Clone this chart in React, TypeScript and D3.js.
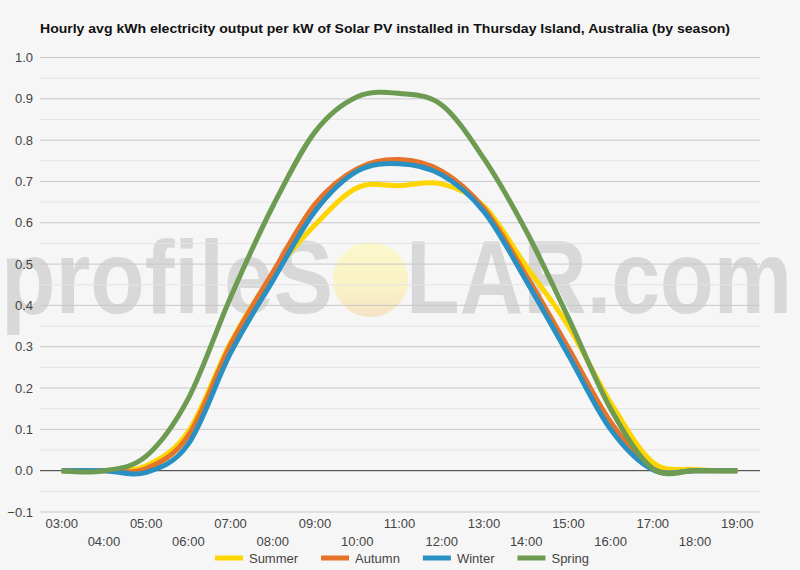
import React, { useEffect, useRef } from 'react';
import * as d3 from 'd3';

const hours = [3, 4, 5, 6, 7, 8, 9, 10, 11, 12, 13, 14, 15, 16, 17, 18, 19];
const summer = [0, 0, 0.012, 0.095, 0.31, 0.475, 0.595, 0.685, 0.69, 0.694, 0.64, 0.495, 0.35, 0.165, 0.02, 0.003, 0];
const autumn = [0, 0, 0.005, 0.085, 0.305, 0.48, 0.645, 0.731, 0.753, 0.725, 0.635, 0.473, 0.297, 0.118, 0.004, 0, 0];
const winter = [0, 0, -0.004, 0.065, 0.285, 0.46, 0.628, 0.725, 0.743, 0.716, 0.627, 0.46, 0.28, 0.1, 0.002, 0, 0];
const spring = [0, 0, 0.035, 0.175, 0.42, 0.64, 0.82, 0.905, 0.913, 0.885, 0.755, 0.58, 0.37, 0.15, 0.005, 0, 0];
const seriesNames = ['Summer', 'Autumn', 'Winter', 'Spring'];
const seriesColors = ['#fdd500', '#e5732a', '#2a90c2', '#6d9b52'];
const yTicks = [-0.1, 0, 0.1, 0.2, 0.3, 0.4, 0.5, 0.6, 0.7, 0.8, 0.9, 1.0];

const W = 800;
const H = 570;

const App: React.FC = () => {
  const svgRef = useRef<SVGSVGElement | null>(null);

  useEffect(() => {
    if (!svgRef.current) return;
    const svg = d3.select(svgRef.current);
    svg.selectAll('*').remove();
    const font = '"Liberation Sans", Arial, sans-serif';

    const x = d3.scaleLinear().domain([3, 19]).range([61.7, 737.3]);
    const y = d3.scaleLinear().domain([-0.1, 1.0]).range([512, 57.5]);
    const left = 40;
    const right = 760;

    svg.append('rect').attr('width', W).attr('height', H).attr('fill', '#f6f6f6');

    // watermark
    const defs = svg.append('defs');
    const grad = defs.append('linearGradient').attr('id', 'sun').attr('x1', 0).attr('y1', 0).attr('x2', 0).attr('y2', 1);
    grad.append('stop').attr('offset', '0%').attr('stop-color', '#fbf8cc');
    grad.append('stop').attr('offset', '60%').attr('stop-color', '#f9f2c4');
    grad.append('stop').attr('offset', '100%').attr('stop-color', '#f6e2c6');
    const wm = svg.append('g').attr('font-family', font).attr('font-size', 103)
      .attr('font-weight', 'bold').attr('fill', '#d8d8d8');
    wm.append('text').attr('x', 1).attr('y', 313)
      .attr('textLength', 332).attr('lengthAdjust', 'spacingAndGlyphs').text('profileS');
    wm.append('text').attr('x', 406).attr('y', 313)
      .attr('textLength', 386).attr('lengthAdjust', 'spacingAndGlyphs').text('LAR.com');
    svg.append('circle').attr('cx', 370.5).attr('cy', 279.5).attr('r', 37.5).attr('fill', 'url(#sun)');

    // gridlines
    const minor = d3.range(-0.05, 1.0, 0.1);
    svg.append('g').selectAll('line').data(minor).enter().append('line')
      .attr('x1', left).attr('x2', right)
      .attr('y1', (d) => y(d)).attr('y2', (d) => y(d))
      .attr('stroke', '#e4e4e4').attr('stroke-width', 1);
    svg.append('g').selectAll('line').data(yTicks).enter().append('line')
      .attr('x1', left).attr('x2', right)
      .attr('y1', (d) => y(d)).attr('y2', (d) => y(d))
      .attr('stroke', (d) => (Math.abs(d) < 1e-9 ? '#333' : '#c8c8c8'))
      .attr('stroke-width', 1);

    // y labels
    svg.append('g').selectAll('text').data(yTicks).enter().append('text')
      .attr('x', 33).attr('y', (d) => y(d)).attr('dy', '0.35em')
      .attr('text-anchor', 'end').attr('font-family', font).attr('font-size', 13).attr('fill', '#444')
      .text((d) => d3.format('.1f')(d));

    // x labels
    svg.append('g').selectAll('text').data(hours).enter().append('text')
      .attr('x', (d) => x(d)).attr('y', (d) => (d % 2 === 1 ? 528 : 546))
      .attr('text-anchor', 'middle').attr('font-family', font).attr('font-size', 13).attr('fill', '#444')
      .text((d) => `${String(d).padStart(2, '0')}:00`);

    // lines
    const all = [summer, autumn, winter, spring];
    const line = d3.line<number>()
      .x((_d, i) => x(hours[i]))
      .y((d) => y(d))
      .curve(d3.curveCardinal.tension(0));
    all.forEach((s, i) => {
      svg.append('path').attr('d', line(s) as string)
        .attr('fill', 'none').attr('stroke', seriesColors[i]).attr('stroke-width', 5)
        .attr('stroke-linejoin', 'round');
    });

    // title
    svg.append('text').attr('x', 40).attr('y', 33)
      .attr('font-family', font).attr('font-size', 13).attr('font-weight', 'bold').attr('fill', '#111')
      .attr('textLength', 690).attr('lengthAdjust', 'spacingAndGlyphs')
      .text('Hourly avg kWh electricity output per kW of Solar PV installed in Thursday Island, Australia (by season)');

    // legend
    const lg = svg.append('g');
    let cx = 0;
    const items: { g: any; w: number }[] = [];
    seriesNames.forEach((name, i) => {
      const g = lg.append('g');
      g.append('rect').attr('x', 0).attr('y', -2.5).attr('width', 28).attr('height', 5).attr('fill', seriesColors[i]);
      const t = g.append('text').attr('x', 34).attr('y', 0).attr('dy', '0.35em')
        .attr('font-family', font).attr('font-size', 13).attr('fill', '#444').text(name);
      const tw = (t.node() as SVGTextElement).getComputedTextLength();
      items.push({ g, w: 34 + tw });
    });
    items.forEach((it, i) => {
      it.g.attr('transform', `translate(${cx},0)`);
      cx += it.w + (i < items.length - 1 ? 23 : 0);
    });
    lg.attr('transform', `translate(${402 - cx / 2},558)`);
  }, []);

  return (
    <svg
      ref={svgRef}
      width={W}
      height={H}
      viewBox={`0 0 ${W} ${H}`}
      style={{ position: 'absolute', left: 0, top: 0 }}
    ></svg>
  );
};

export default App;
